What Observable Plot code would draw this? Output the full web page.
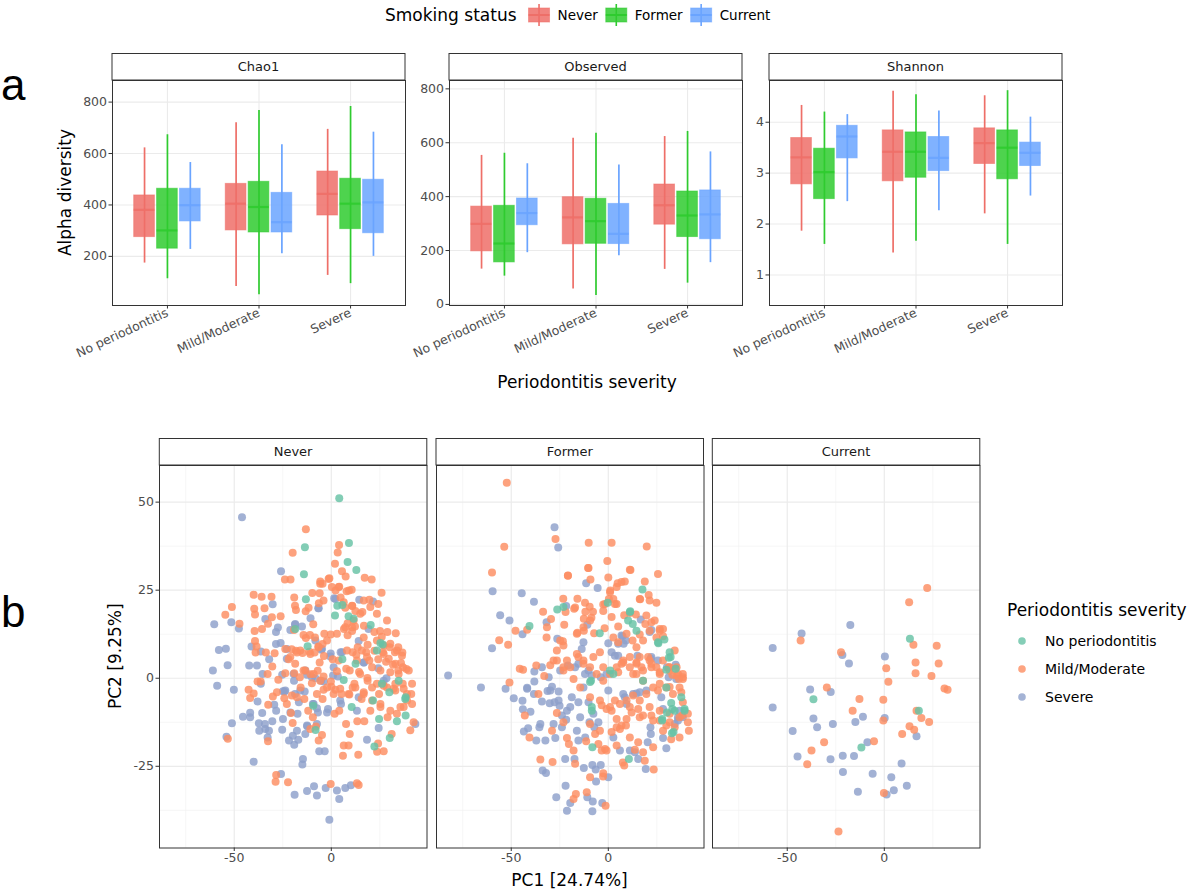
<!DOCTYPE html>
<html>
<head>
<meta charset="utf-8">
<script src="https://cdn.jsdelivr.net/npm/d3@7"></script>
<script src="https://cdn.jsdelivr.net/npm/@observablehq/plot@0.6"></script>
<style>
  body { margin: 0; background: #fff; }
  #fig { position: relative; width: 1200px; height: 891px; overflow: hidden; background: #fff; font-family: "DejaVu Sans", sans-serif; }
  #fig > svg { position: absolute; }
</style>
</head>
<body>
<div id="fig"></div>
<script>
// ---------------- data ----------------
const severities = ["No periodontitis", "Mild/Moderate", "Severe"];
const smoking = ["Never", "Former", "Current"];
const metrics = ["Chao1", "Observed", "Shannon"];

// Box statistics per metric: [lower whisker, Q1, median, Q3, upper whisker]
// rows ordered severity (No, Mild/Moderate, Severe) x smoking (Never, Former, Current)
const chao1Stats = [
  [174, 275, 381, 437, 622], [113, 230, 301, 463, 673], [227, 336, 399, 463, 565],
  [83, 301, 405, 482, 720], [51, 293, 392, 490, 767], [210, 293, 333, 447, 634],
  [126, 359, 443, 530, 694], [94, 306, 405, 502, 783], [200, 290, 410, 498, 683]
];
const observedStats = [
  [131, 197, 299, 363, 553], [105, 156, 226, 366, 561], [192, 294, 339, 393, 522],
  [57, 223, 323, 398, 617], [33, 225, 309, 392, 635], [181, 224, 262, 373, 517],
  [130, 296, 368, 445, 623], [79, 250, 330, 419, 642], [155, 242, 334, 423, 566]
];
const shannonStats = [
  [1.86, 2.78, 3.31, 3.69, 4.33], [1.60, 2.49, 3.02, 3.48, 4.20], [2.44, 3.29, 3.72, 3.93, 4.15],
  [1.43, 2.84, 3.42, 3.84, 4.61], [1.66, 2.91, 3.42, 3.80, 4.54], [2.26, 3.04, 3.30, 3.71, 4.22],
  [2.20, 3.18, 3.59, 3.88, 4.52], [1.60, 2.88, 3.50, 3.84, 4.62], [2.55, 3.14, 3.40, 3.60, 4.10]
];
const chao1Ticks = [200, 400, 600, 800];
const observedTicks = [0, 200, 400, 600, 800];
const shannonTicks = [1, 2, 3, 4];
const chao1Domain = [9, 884];
const observedDomain = [-4, 831];
const shannonDomain = [0.4, 4.82];

// PCA scores [PC1, PC2] by smoking status and periodontitis severity
const neverNone = [[4.1,51.1],[-13.6,37.2],[9.1,38.4],[8.4,33.0],[12.9,30.7],[-14.1,29.5],[-13.1,22.4],[1.9,17.8],[3.1,20.6],[5.7,20.8],[8.9,17.6],[11.5,16.9],[-12.2,9.1],[5.7,5.4],[20.3,15.1],[25.3,10.0],[26.5,9.6],[12.5,4.1],[6.4,-0.5],[34.7,-0.7],[29.9,-4.0],[38.3,-5.4],[-9.3,-7.8],[-8.1,-14.7],[10.5,-8.2],[22.2,-19.4],[21.5,-6.3],[24.6,-11.6],[33.8,-12.2],[38.3,-10.6],[38.1,-5.9],[30.1,-17.0],[23.5,7.9],[-18.6,14.0],[26.1,-1.6]];
const neverMild = [[-13.1,42.3],[-19.9,35.6],[4.0,37.8],[3.3,35.7],[1.9,32.5],[5.5,30.4],[7.4,28.9],[-23.9,28.0],[-21.0,28.0],[17.2,28.5],[20.8,28.0],[-5.7,27.5],[-1.0,28.4],[-4.5,26.8],[0.3,25.9],[4.1,26.0],[2.2,24.9],[7.9,24.7],[10.5,25.1],[25.9,24.3],[-40.0,23.7],[-35.9,23.1],[-30.8,23.1],[-19.1,22.9],[-9.8,24.2],[-6.0,24.1],[4.8,22.9],[19.6,22.3],[24.2,21.1],[-51.2,20.2],[-54.6,18.0],[-39.7,19.7],[-34.4,19.9],[-39.3,18.1],[-30.6,17.3],[-26.1,17.6],[-18.7,20.6],[-18.2,19.4],[-13.2,19.0],[-11.7,20.0],[-6.4,21.3],[-9.3,15.3],[7.2,20.0],[10.8,20.5],[12.4,19.1],[16.0,18.8],[8.4,15.6],[12.2,14.7],[16.8,14.9],[10.7,13.4],[-47.3,15.5],[-39.5,13.4],[-35.7,14.0],[-32.6,15.5],[-19.2,13.7],[-39.3,10.6],[-38.5,9.0],[-39.0,7.3],[-33.7,7.3],[-29.2,7.1],[-23.7,8.3],[-20.4,8.2],[-18.2,7.8],[-22.0,5.4],[-14.3,12.3],[-13.1,11.4],[-11.0,12.3],[-8.4,11.6],[-3.6,12.6],[-0.3,12.4],[-6.7,9.0],[-4.5,9.7],[-11.3,7.5],[-8.6,7.3],[-14.8,7.2],[-17.7,7.3],[-6.0,4.5],[-3.8,6.3],[0.7,5.4],[3.8,5.0],[6.5,14.0],[8.4,12.2],[10.7,14.5],[8.1,7.9],[11.0,7.4],[13.6,8.8],[12.9,6.7],[16.7,11.6],[18.7,9.5],[22.2,13.1],[25.1,13.4],[28.9,13.1],[26.0,11.8],[33.2,12.8],[18.0,7.4],[22.2,7.8],[26.6,7.4],[30.1,8.8],[34.5,8.8],[36.6,7.3],[32.8,7.4],[19.6,5.0],[24.2,5.4],[28.2,4.7],[31.8,3.8],[35.9,4.3],[38.7,2.6],[34.5,2.2],[9.5,2.2],[14.3,1.8],[18.6,0.1],[41.6,-1.6],[37.3,-3.0],[33.0,-1.6],[-42.6,-3.3],[-36.4,-0.9],[-32.8,1.2],[-30.4,3.3],[-27.3,-0.4],[-23.7,1.4],[-19.1,1.4],[-16.2,0.3],[-13.4,2.2],[-10.7,1.1],[-7.0,2.1],[-4.0,0.5],[-0.2,-0.9],[2.9,2.0],[7.7,2.7],[11.0,-2.6],[-41.8,-5.6],[-40.0,-4.3],[-38.0,-0.9],[-32.5,-7.5],[-30.1,-5.2],[-28.0,-4.0],[-24.2,-5.7],[-20.3,-4.9],[-22.9,-7.3],[-17.7,-5.4],[-15.8,-2.6],[-53.3,-17.2],[-32.6,-17.9],[-20.8,-9.9],[-19.9,-12.7],[-9.5,-11.1],[-10.8,-14.4],[-7.9,-13.7],[-4.8,-16.1],[-6.5,-17.7],[-28.4,-27.5],[-28.7,-29.4],[-22.3,-29.5],[-0.3,-30.0],[13.2,-29.8],[14.1,-30.3],[1.7,-10.1],[4.1,-9.2],[7.6,-13.0],[9.5,-15.8],[13.4,-12.2],[17.0,-12.2],[6.4,-19.1],[8.9,-19.1],[6.0,-22.0],[13.9,-21.7],[24.1,-18.5],[27.0,-20.7],[31.1,-15.8],[23.6,-20.9],[15.6,-5.9],[20.1,-9.2],[25.3,-7.3],[29.0,-11.1],[33.8,-10.1],[37.3,-8.2],[41.6,-7.3],[42.4,-12.5],[40.7,-14.8],[24.6,-4.5],[27.0,-2.1],[32.1,-3.0],[36.8,-1.6],[39.0,-4.5],[11.9,-1.6],[16.7,-4.0],[21.0,-2.6],[9.3,-4.6],[5.3,-4.5],[2.1,-3.3],[0.0,-2.4],[-4.0,-3.3],[-10.0,-1.4],[-7.4,-4.5],[-4.5,-5.9],[-13.9,-5.9],[-11.9,-9.2],[23.5,10.7],[27.0,9.3],[30.4,9.8],[33.8,7.9],[36.4,6.4],[27.0,6.9],[29.6,5.5],[33.0,4.1],[36.9,3.1],[39.9,2.2],[34.7,1.2],[30.4,1.7],[25.3,2.2],[21.0,3.1],[18.4,6.0],[15.8,7.9],[13.2,5.0],[14.9,1.2],[18.7,-0.7],[23.5,-1.6],[28.7,-2.6],[33.0,-3.5],[41.2,-4.5],[39.0,-6.3],[35.6,-8.2],[30.4,-9.2],[25.3,-8.2],[21.0,-6.3],[16.7,-4.5],[12.4,-2.6],[8.9,-4.5],[4.6,-3.0],[1.2,-4.5],[-2.2,-2.6],[-5.7,-0.7],[-9.1,1.2],[-14.3,2.2],[-18.6,4.1],[-21.1,6.0],[-16.0,7.9],[-10.8,6.9],[-6.5,8.8],[-2.2,10.7],[2.9,12.6],[7.2,14.5],[11.5,16.4],[14.9,18.3],[10.7,20.6],[6.4,21.6],[-4.0,22.1],[-5.7,26.8],[-1.4,28.2],[3.8,25.9],[9.1,24.9],[16.7,22.1],[20.1,20.2],[23.5,18.3],[28.7,16.4]];
const neverSevere = [[-46.0,45.7],[-25.9,30.4],[1.5,22.7],[14.4,22.3],[21.5,21.8],[-30.2,21.0],[-34.0,16.8],[-6.7,19.9],[-10.7,17.0],[-51.5,15.9],[-60.3,15.3],[-47.6,14.1],[-57.9,8.0],[-54.3,8.4],[-61.0,2.2],[-53.4,3.7],[-28.5,13.1],[-27.5,14.4],[-21.1,13.7],[-18.7,15.2],[-15.1,14.7],[-41.1,9.0],[-36.3,7.6],[-32.0,5.4],[-28.5,9.7],[-26.1,10.0],[-22.9,5.5],[-8.2,10.7],[-5.2,8.1],[-0.3,7.0],[4.8,7.4],[14.1,10.6],[24.2,2.8],[28.4,0.0],[16.8,4.5],[-42.3,3.6],[-38.3,3.6],[-35.4,1.2],[-36.3,-1.6],[-25.3,1.0],[-19.4,1.2],[-19.2,-0.7],[-12.5,1.0],[-8.2,0.0],[-3.8,-0.9],[3.4,0.5],[-58.8,-2.1],[-50.2,-3.3],[-38.0,-6.6],[-29.4,-7.5],[-28.4,-9.2],[-24.9,-3.7],[-24.1,-3.8],[-18.7,-4.5],[-16.7,-6.8],[-13.7,-3.8],[-21.1,-9.7],[-17.4,-10.1],[-51.2,-12.8],[-45.5,-10.9],[-41.8,-11.1],[-41.8,-9.8],[-35.6,-9.9],[-37.3,-12.8],[-34.2,-13.0],[-37.1,-14.9],[-34.0,-14.4],[-32.1,-14.9],[-32.8,-16.8],[-30.4,-12.2],[-25.3,-14.6],[-24.9,-11.6],[-54.0,-16.6],[-19.8,-16.3],[-21.8,-17.7],[-19.1,-18.9],[-17.0,-17.5],[-17.7,-14.9],[-12.4,-13.6],[-13.4,-15.8],[-6.9,-9.7],[-9.5,-7.3],[-7.4,-8.5],[-2.2,-9.7],[-6.2,-20.7],[-3.4,-20.7],[-40.0,-23.7],[-14.6,-22.9],[-14.9,-24.5],[-25.9,-27.2],[-18.9,-33.1],[-12.5,-32.0],[-8.9,-30.7],[-7.4,-33.3],[-2.9,-31.2],[2.9,-31.9],[4.1,-34.3],[7.2,-31.2],[10.1,-30.4],[-1.0,-40.2],[-1.7,-8.7],[13.2,-9.2],[18.4,-17.5],[5.0,-7.3],[24.4,-14.1],[43.3,-13.0],[27.0,-0.7],[0.9,0.8],[-5.3,-0.7],[2.1,22.5],[-6.5,19.9],[-18.6,15.4],[-22.9,8.3],[-4.8,8.3],[-0.5,6.2],[5.5,7.4],[19.2,14.0],[16.7,4.5],[1.2,3.1],[-13.4,2.2],[-10.0,0.3],[-23.7,-3.5],[-16.0,-3.5],[-9.1,-7.3],[4.6,-6.3],[14.1,-5.4],[-12.5,-13.4],[-7.4,-13.0]];

const formerNone = [[17.6,25.2],[-26.3,19.5],[-23.1,20.2],[-40.6,14.8],[-0.3,21.4],[11.3,19.0],[-4.4,12.8],[12.6,15.4],[25.8,9.9],[28.9,11.0],[31.6,7.4],[31.2,5.8],[0.9,2.2],[2.6,1.2],[17.9,-0.7],[29.9,-2.6],[-8.9,-0.7],[-8.2,-19.6],[-8.5,-9.2],[-9.4,-1.1],[10.6,-22.9],[27.7,-12.0],[32.8,-15.6],[30.2,-9.7],[34.2,-9.2],[39.3,-9.2],[32.4,-7.0],[11.1,18.8],[10.2,16.4],[14.5,13.5],[25.6,10.2],[32.1,6.0],[29.9,2.4],[34.7,2.7],[37.6,-5.4],[39.3,-8.7],[33.0,-8.7],[27.8,-11.6],[33.6,-15.3],[-8.5,-8.2]];
const formerMild = [[-52.3,55.5],[-27.2,39.5],[-53.6,37.3],[-10.1,38.5],[1.7,38.5],[19.8,37.4],[-0.5,33.3],[-10.4,31.3],[11.4,30.7],[25.6,29.6],[-59.9,30.0],[-20.8,29.1],[-9.2,28.0],[0.0,28.6],[4.8,27.0],[8.5,27.5],[18.8,27.5],[1.0,24.9],[0.3,22.5],[3.4,21.1],[-2.6,20.9],[-23.2,22.6],[-15.9,22.6],[-22.0,18.8],[-12.0,21.4],[-9.6,20.3],[-17.1,20.1],[-11.8,18.9],[-7.9,18.9],[16.4,22.4],[24.8,21.4],[20.8,23.6],[-33.6,18.9],[-29.5,16.8],[-31.8,11.6],[-31.6,14.5],[-47.8,13.5],[-51.6,9.5],[-41.8,13.8],[-56.2,10.8],[-23.4,10.5],[-22.7,15.2],[-17.6,19.7],[-12.6,16.9],[-8.7,17.2],[-2.6,19.1],[1.7,17.4],[5.1,14.7],[8.2,17.9],[11.1,18.5],[14.2,18.1],[-15.9,12.9],[-12.6,13.5],[-7.3,12.8],[-1.9,14.2],[2.6,11.6],[5.1,10.2],[9.4,12.6],[12.5,10.7],[16.2,12.4],[19.1,15.4],[22.2,15.9],[26.5,14.0],[28.2,11.9],[24.8,11.6],[34.2,7.9],[35.2,3.1],[33.0,1.0],[36.4,-0.2],[38.4,1.2],[31.2,3.1],[26.5,1.2],[22.2,3.1],[17.1,3.1],[12.8,1.2],[-26.5,7.9],[-23.1,9.3],[-26.5,5.0],[-21.3,5.0],[-19.6,3.1],[-15.4,6.0],[-12.8,4.1],[-7.7,6.0],[-4.3,7.4],[-2.6,3.1],[5.1,1.7],[7.7,4.5],[11.1,6.0],[14.5,4.5],[20.5,6.0],[-45.6,2.7],[-43.9,2.4],[-37.1,3.6],[-33.0,0.6],[-50.9,-1.2],[-43.0,-10.6],[-40.6,-16.8],[-35.0,-23.1],[-28.7,-23.8],[-36.0,-4.5],[-29.9,3.7],[-23.1,3.1],[-26.5,-9.9],[-29.0,-14.9],[-23.1,-12.5],[-21.3,-17.0],[-20.3,-18.7],[-17.9,-20.5],[-17.1,-24.3],[-11.1,-32.4],[-17.9,-34.3],[-16.7,-32.9],[-11.4,-17.9],[-1.7,-20.1],[-2.7,-27.9],[-1.4,-36.2],[-9.4,-28.1],[6.8,-13.4],[-6.8,-15.8],[-5.1,-18.7],[-3.4,-20.5],[-0.9,-20.5],[1.7,-15.3],[4.3,-19.1],[6.0,-14.4],[9.1,-13.4],[11.1,-16.8],[15.4,-18.2],[17.9,-21.0],[13.7,-20.3],[7.5,-23.9],[8.2,-24.8],[-2.6,-27.0],[23.4,-25.9],[18.8,-23.4],[23.1,-19.6],[28.2,-14.9],[32.4,-17.3],[36.7,-16.8],[41.5,-14.9],[41.0,-12.5],[38.1,-10.6],[31.6,-12.5],[26.5,-12.0],[22.2,-10.6],[17.9,-10.6],[15.4,-8.7],[12.0,-9.7],[4.3,-11.6],[1.7,-9.2],[-0.9,-8.7],[-3.4,-7.7],[3.4,-6.3],[9.4,-6.3],[12.8,-4.9],[19.6,-4.5],[25.6,-3.5],[31.6,-2.5],[37.6,-4.0],[38.4,-6.8],[41.0,-10.1],[6.8,4.1],[14.5,4.1],[17.9,2.2],[22.2,4.1],[26.5,1.7],[31.6,2.2],[35.9,1.2],[38.4,0.3],[-20.8,29.2],[-10.2,31.3],[11.1,30.8],[6.8,27.3],[4.3,25.9],[0.9,24.4],[2.6,22.5],[-1.7,21.1],[4.3,21.1],[16.2,22.5],[21.3,22.1],[19.6,17.8],[23.9,16.4],[26.5,13.5],[28.2,14.0],[21.3,13.5],[17.9,10.7],[14.5,8.8],[16.2,6.0],[21.3,5.0],[24.8,3.1],[28.2,5.0],[31.6,3.1],[35.0,0.8],[38.4,-0.2],[36.7,-2.6],[33.3,-4.5],[29.9,-2.6],[26.5,-1.6],[23.1,-2.6],[17.9,-0.7],[14.5,1.2],[11.1,3.1],[7.7,5.0],[4.3,3.1],[0.9,1.2],[-2.6,-0.7],[-6.0,1.2],[-9.4,3.1],[-12.8,5.0],[-16.2,6.9],[-12.8,14.5],[-9.4,16.4],[-16.2,12.6],[-24.8,10.7],[-28.2,5.0],[-23.1,2.2],[-17.9,-0.2],[-14.5,-2.6],[-9.4,-5.4],[-4.3,-6.3],[0.9,-8.2],[6.0,-7.3],[11.1,-8.2],[16.2,-6.3],[21.3,-8.2],[26.5,-9.2],[31.6,-10.1],[36.7,-11.1],[34.2,-13.9],[29.9,-13.4],[23.1,-12.0],[16.2,-11.1],[9.4,-11.6],[4.3,-13.9],[-4.3,-14.9],[-9.4,-13.0]];
const formerSevere = [[-27.7,42.9],[-25.8,37.1],[-11.4,27.0],[-5.5,25.6],[-59.6,24.7],[-44.6,24.1],[-38.3,21.7],[-21.7,20.5],[-55.7,17.9],[-50.9,16.4],[-44.2,12.5],[-59.9,8.5],[-31.8,15.9],[-26.3,11.2],[-10.8,15.2],[7.3,11.9],[16.7,16.7],[22.2,13.7],[34.7,3.8],[31.1,0.3],[35.0,-0.2],[25.6,5.0],[21.9,5.5],[15.0,6.4],[7.9,9.8],[0.0,9.9],[1.7,7.4],[3.4,6.4],[5.1,9.8],[-20.8,3.6],[-17.1,3.1],[-12.0,1.2],[-10.2,2.2],[-3.9,0.3],[-24.8,2.2],[-30.7,0.3],[-34.2,3.1],[-38.1,1.9],[-82.5,0.8],[-65.6,-2.6],[-52.9,-3.0],[-41.8,-3.0],[-38.1,-0.9],[-48.7,-5.7],[-44.2,-6.4],[-44.0,-8.8],[-40.1,-9.5],[-43.5,-15.1],[-41.3,-14.2],[-35.5,-13.9],[-37.1,-17.7],[-35.0,-13.0],[-32.4,-17.7],[-33.8,-26.2],[-32.1,-26.9],[-41.8,-2.7],[-38.3,-4.5],[-34.2,-6.6],[-31.3,-3.6],[-29.0,-2.4],[-27.7,-6.8],[-30.2,-7.1],[-25.6,-3.8],[-28.2,-13.0],[-27.3,-17.0],[-23.9,-10.6],[-21.7,-11.8],[-23.9,-13.9],[-21.3,-9.2],[-25.1,-7.8],[-22.2,-22.9],[-26.8,-33.8],[-22.0,-30.5],[-19.6,-35.4],[-21.3,-37.6],[-10.8,-33.8],[-8.0,-35.0],[-8.2,-37.8],[-3.1,-35.4],[-12.6,-25.5],[-8.2,-24.6],[-6.5,-25.9],[-3.9,-24.6],[0.0,-28.1],[-6.3,-29.3],[-17.4,-22.9],[-15.4,-17.7],[-16.2,-14.9],[-11.9,-16.8],[-9.7,-12.5],[-7.2,-13.9],[-5.1,-12.5],[-7.7,-10.1],[-10.2,-6.8],[-15.4,-6.8],[-18.8,-5.4],[-12.8,-2.6],[2.6,-16.8],[6.0,-20.5],[11.1,-20.5],[13.7,-21.0],[15.4,-22.9],[19.3,-25.8],[20.3,-18.2],[21.7,-13.9],[21.9,-15.8],[28.2,-17.0],[29.9,-19.9],[8.5,-5.4],[12.8,-4.5],[16.2,-4.0],[19.6,-3.5],[28.2,-8.7],[35.9,-11.1],[30.2,3.1],[-29.9,-3.5],[-25.6,-6.3],[-19.6,-8.2],[-14.5,-11.1],[-12.8,10.2],[-13.7,8.3],[5.1,6.4],[6.8,12.1],[9.1,10.7],[21.3,13.1],[22.2,6.0],[27.3,-5.4],[36.7,-9.2],[38.4,-11.1],[35.9,-12.0],[34.2,-13.0],[7.7,-4.5],[14.5,-4.3],[9.4,-7.3],[-0.9,1.2],[0.0,-3.5],[-8.5,0.8],[-15.4,4.1]];

const currentNone = [[13.2,11.2],[-36.5,-6.0],[17.8,-9.2],[-11.8,-19.7]];
const currentMild = [[22.1,25.6],[12.8,21.6],[-43.1,10.7],[15.0,9.5],[27.0,9.2],[-22.3,7.4],[16.1,4.5],[28.0,4.2],[1.0,2.8],[16.1,1.4],[24.3,0.6],[2.1,-1.0],[-29.6,-2.6],[31.0,-2.9],[32.6,-3.3],[-12.8,-5.9],[-0.5,-6.1],[-16.3,-9.2],[16.6,-9.2],[19.1,-11.3],[23.1,-12.4],[-0.5,-12.0],[13.0,-13.6],[15.4,-14.6],[9.2,-15.8],[-31.0,-18.2],[-5.3,-17.9],[-37.5,-20.5],[-39.7,-24.4],[-0.2,-32.6],[-23.6,-43.5]];
const currentSevere = [[-57.5,8.6],[-42.6,12.7],[-17.5,15.1],[-21.6,6.6],[-18.2,4.2],[0.3,6.2],[-38.2,-3.2],[-27.6,-3.9],[-57.5,-8.3],[-36.5,-11.4],[-34.6,-13.9],[-26.5,-13.0],[-14.9,-12.4],[-11.0,-10.9],[0.2,-11.3],[-47.2,-15.0],[16.6,-16.5],[-8.7,-18.2],[-44.7,-22.2],[-27.7,-23.0],[-21.4,-22.0],[-15.6,-22.1],[8.9,-24.2],[-21.3,-26.6],[-6.0,-27.1],[3.6,-28.1],[-13.6,-32.2],[4.9,-31.8],[11.6,-30.5],[1.2,-33.0]];

const pcaBySmoking = {
  Never: [neverNone, neverMild, neverSevere],
  Former: [formerNone, formerMild, formerSevere],
  Current: [currentNone, currentMild, currentSevere]
};
const pcXDomain = [-88.5, 49.3];
const pcYDomain = [-48.2, 60.4];
const pcXTicks = [-50, 0];
const pcXMinor = [-75, -25, 25];
const pcYTicks = [-25, 0, 25, 50];
const pcYMinor = [-37.5, -12.5, 12.5, 37.5];

// ---------------- styling ----------------
const smokeColors = ["#EE6F68", "#2FCB2F", "#6AA4FF"];
const sevColors = ["#66C2A5", "#FC8D62", "#8DA0CB"];
const FONT = "DejaVu Sans";
const INK = "#4d4d4d";
const FRAME = "#333333";

const fig = document.getElementById("fig");

function placeSvg(svg, left, top, z = 1) {
  svg.style.left = left + "px";
  svg.style.top = top + "px";
  svg.style.zIndex = z;
  svg.style.overflow = "visible";
  fig.appendChild(svg);
}

// ---------------- panel a: alpha diversity boxplots ----------------
const PA = { top: 80, h: 225, w: 293, lefts: [112, 449, 769] };
const DODGE = 0.25, HALF = 0.113;

function boxPanel(stats, domain, ticks, left) {
  const rows = [];
  severities.forEach((sev, i) => smoking.forEach((sm, j) => {
    const [lo, q1, med, q3, hi] = stats[i * 3 + j];
    rows.push({ sev, sm, x: i + (j - 1) * DODGE, lo, q1, med, q3, hi });
  }));
  const ml = 50, mb = 80, mt = 0, mr = 0;
  const chart = Plot.plot({
    width: PA.w + ml + mr, height: PA.h + mt + mb,
    marginLeft: ml, marginRight: mr, marginTop: mt, marginBottom: mb,
    x: { domain: [-0.6, 2.6] },
    y: { domain },
    color: { domain: smoking, range: smokeColors },
    style: { fontFamily: FONT, fontSize: "12.5px", background: "transparent", overflow: "visible" },
    marks: [
      Plot.gridY(ticks, { stroke: "#ebebeb", strokeOpacity: 1, strokeWidth: 1.1 }),
      Plot.gridX([0, 1, 2], { stroke: "#ebebeb", strokeOpacity: 1, strokeWidth: 1.1 }),
      Plot.ruleX(rows, { x: "x", y1: "lo", y2: "hi", stroke: "sm", strokeWidth: 1.7 }),
      Plot.rect(rows, { x1: d => d.x - HALF, x2: d => d.x + HALF, y1: "q1", y2: "q3", fill: "sm", fillOpacity: 0.85, stroke: "sm", strokeOpacity: 0.55, strokeWidth: 1 }),
      Plot.ruleY(rows, { y: "med", x1: d => d.x - HALF, x2: d => d.x + HALF, stroke: "sm", strokeWidth: 2.2, strokeOpacity: 0.9 }),
      Plot.frame({ stroke: FRAME, strokeWidth: 1 }),
      Plot.axisY(ticks, { tickSize: 3.5, tickPadding: 2, stroke: FRAME, fill: INK, label: null, tickFormat: d => String(d) }),
      Plot.axisX([0, 1, 2], { tickSize: 3.5, tickPadding: 3, stroke: FRAME, fill: INK, label: null, tickRotate: -25, tickFormat: d => severities[d] })
    ]
  });
  placeSvg(chart, left - ml, PA.top - mt);
}
boxPanel(chao1Stats, chao1Domain, chao1Ticks, PA.lefts[0]);
boxPanel(observedStats, observedDomain, observedTicks, PA.lefts[1]);
boxPanel(shannonStats, shannonDomain, shannonTicks, PA.lefts[2]);

// ---------------- panel b: PCA by smoking status ----------------
const PB = { top: 465, h: 382.5, w: 267.5, lefts: [159.3, 436, 712.3] };

function pcaPanel(status, k) {
  const pts = [];
  [2, 1, 0].forEach(s => pcaBySmoking[status][s].forEach(([pc1, pc2]) => pts.push({ sev: severities[s], pc1, pc2 })));
  const ml = 50, mb = 30, mt = 0, mr = 0;
  const marks = [
    Plot.gridX(pcXMinor, { stroke: "#f2f2f2", strokeOpacity: 1, strokeWidth: 0.7 }),
    Plot.gridY(pcYMinor, { stroke: "#f2f2f2", strokeOpacity: 1, strokeWidth: 0.7 }),
    Plot.gridX(pcXTicks, { stroke: "#ebebeb", strokeOpacity: 1, strokeWidth: 1.2 }),
    Plot.gridY(pcYTicks, { stroke: "#ebebeb", strokeOpacity: 1, strokeWidth: 1.2 }),
    Plot.dot(pts, { x: "pc1", y: "pc2", fill: "sev", r: 4, fillOpacity: 0.82 }),
    Plot.frame({ stroke: FRAME, strokeWidth: 1 }),
    Plot.axisX(pcXTicks, { tickSize: 3.5, tickPadding: 2, stroke: FRAME, fill: INK, label: null, tickFormat: d => String(d) })
  ];
  if (k === 0) marks.push(Plot.axisY(pcYTicks, { tickSize: 3.5, tickPadding: 2, stroke: FRAME, fill: INK, label: null, tickFormat: d => String(d) }));
  const chart = Plot.plot({
    width: PB.w + ml + mr, height: PB.h + mt + mb,
    marginLeft: ml, marginRight: mr, marginTop: mt, marginBottom: mb,
    x: { domain: pcXDomain },
    y: { domain: pcYDomain, axis: k === 0 ? undefined : null },
    color: { domain: severities, range: sevColors },
    style: { fontFamily: FONT, fontSize: "12.5px", background: "transparent", overflow: "visible" },
    marks
  });
  placeSvg(chart, PB.lefts[k] - ml, PB.top - mt);
}
smoking.forEach((s, k) => pcaPanel(s, k));

// ---------------- annotations: strips, titles, legends ----------------
const over = d3.create("svg").attr("width", 1200).attr("height", 891)
  .style("left", "0px").style("top", "0px").style("z-index", 5).style("pointer-events", "none")
  .attr("font-family", FONT);
fig.appendChild(over.node());

function strip(x, y, w, h, txt) {
  over.append("rect").attr("x", x).attr("y", y).attr("width", w).attr("height", h)
    .attr("fill", "#fff").attr("stroke", FRAME).attr("stroke-width", 1);
  over.append("text").attr("x", x + w / 2).attr("y", y + h / 2).attr("text-anchor", "middle")
    .attr("dominant-baseline", "central").attr("font-size", 13).attr("fill", "#1a1a1a").text(txt);
}
metrics.forEach((m, i) => strip(PA.lefts[i], 53.5, PA.w, PA.top - 53.5, m));
smoking.forEach((s, i) => strip(PB.lefts[i], 438.5, PB.w, PB.top - 438.5, s));

function label(x, y, txt, size, opts = {}) {
  const t = over.append("text").attr("x", x).attr("y", y).attr("font-size", size)
    .attr("fill", opts.fill || "#000").attr("text-anchor", opts.anchor || "middle")
    .attr("dominant-baseline", opts.baseline || "central").text(txt);
  if (opts.family) t.attr("font-family", opts.family);
  if (opts.rotate) t.attr("transform", `rotate(${opts.rotate},${x},${y})`);
  return t;
}
label(1, 100, "a", 44, { anchor: "start", baseline: "alphabetic", family: "Liberation Sans" });
label(1, 627, "b", 44, { anchor: "start", baseline: "alphabetic", family: "Liberation Sans" });
label(65, PA.top + PA.h / 2, "Alpha diversity", 17, { rotate: -90 });
label((PA.lefts[0] + PA.lefts[2] + PA.w) / 2, 382, "Periodontitis severity", 17);
label(115, PB.top + PB.h / 2, "PC2 [9.25%]", 17, { rotate: -90 });
label((PB.lefts[0] + PB.lefts[2] + PB.w) / 2, 880, "PC1 [24.74%]", 17);

// smoking status legend (boxplot keys), laid out left to right
const title = label(385, 15, "Smoking status", 17, { anchor: "start" });
let cursor = 385 + title.node().getComputedTextLength() + 12;
smoking.forEach((s, i) => {
  const x = cursor;
  over.append("line").attr("x1", x + 10.5).attr("x2", x + 10.5).attr("y1", 4).attr("y2", 26)
    .attr("stroke", smokeColors[i]).attr("stroke-width", 1.6);
  over.append("rect").attr("x", x).attr("y", 8).attr("width", 21).attr("height", 14)
    .attr("fill", smokeColors[i]).attr("fill-opacity", 0.85).attr("stroke", smokeColors[i]).attr("stroke-opacity", 0.55);
  over.append("line").attr("x1", x).attr("x2", x + 21).attr("y1", 15).attr("y2", 15)
    .attr("stroke", smokeColors[i]).attr("stroke-width", 2);
  const t = label(x + 29, 15, s, 13.5, { anchor: "start" });
  cursor = x + 29 + t.node().getComputedTextLength() + 8;
});

// periodontitis severity legend
label(1007, 610, "Periodontitis severity", 17, { anchor: "start" });
severities.forEach((s, i) => {
  const y = 641 + i * 28;
  over.append("circle").attr("cx", 1022).attr("cy", y).attr("r", 3.8)
    .attr("fill", sevColors[i]).attr("fill-opacity", 0.8);
  label(1045, y, s, 14, { anchor: "start" });
});
</script>
</body>
</html>
